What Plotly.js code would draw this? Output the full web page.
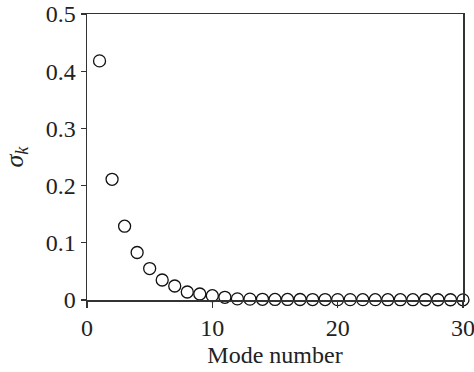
<!DOCTYPE html>
<html><head><meta charset="utf-8">
<script src="https://cdn.plot.ly/plotly-3.0.1.min.js"></script>
<style>html,body{margin:0;padding:0;background:#fff}#chart{width:474px;height:372px}</style>
</head><body><div id="chart"></div>
<script>
const modes = [1,2,3,4,5,6,7,8,9,10,11,12,13,14,15,16,17,18,19,20,21,22,23,24,25,26,27,28,29,30];
const sigma = [0.418,0.211,0.129,0.083,0.055,0.035,0.0245,0.014,0.0105,0.0075,0.0047,0.002,0.0015,0.0012,0.001,0.001,0.0009,0.0008,0.0008,0.0007,0.0007,0.0006,0.0006,0.0005,0.0005,0.0005,0.0004,0.0004,0.0004,0.0003];
const xTicks = [0,10,20,30];
const yTicks = [0,0.1,0.2,0.3,0.4,0.5];
const yTickText = ['0','0.1','0.2','0.3','0.4','0.5'];
const font = {family:'Liberation Serif, DejaVu Serif, serif', size:24, color:'#222'};
Plotly.newPlot('chart',[{
  x: modes, y: sigma, type:'scatter', mode:'markers', cliponaxis:false,
  marker:{symbol:'circle-open', size:12, color:'#111', line:{width:1.3, color:'#111'}}
}],{
  width:474, height:372,
  margin:{l:87,r:11,t:14,b:72},
  paper_bgcolor:'#fff', plot_bgcolor:'#fff',
  font: font,
  showlegend:false,
  xaxis:{range:[0,30], tickvals:xTicks, ticks:'outside', ticklen:6, tickwidth:1.3, tickcolor:'#333',
    ticklabeloverflow:'allow',
    showline:true, linecolor:'#333', linewidth:1.5, mirror:true, showgrid:false, zeroline:false,
    tickfont:font, title:{text:'Mode number', font:font, standoff:6}},
  yaxis:{range:[0,0.5], tickvals:yTicks, ticktext:yTickText, ticks:'outside', ticklen:5, tickwidth:1.3, tickcolor:'#333',
    showline:true, linecolor:'#333', linewidth:1.5, mirror:true, showgrid:false, zeroline:false,
    tickfont:font, title:{text:'<i>σ</i><sub><i>k</i></sub>', font:{family:font.family, size:26, color:'#222'}, standoff:16}}
},{staticPlot:true});
</script></body></html>
